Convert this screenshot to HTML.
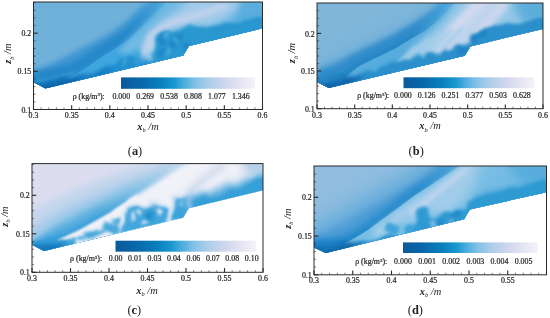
<!DOCTYPE html>
<html><head><meta charset="utf-8"><title>Density contours</title>
<style>html,body{margin:0;padding:0;background:#fff}body{width:550px;height:318px;overflow:hidden;font-family:"Liberation Serif","DejaVu Serif",serif}svg{display:block}text{font-family:"Liberation Serif","DejaVu Serif",serif;fill:#222}</style></head><body>
<svg width="550" height="318" viewBox="0 0 550 318">
<defs>
<linearGradient id="cbg" x1="0" y1="0" x2="1" y2="0"><stop offset="0" stop-color="#0a5a9a"/><stop offset="0.15" stop-color="#0868aa"/><stop offset="0.3" stop-color="#0a80be"/><stop offset="0.4" stop-color="#1a98d0"/><stop offset="0.46" stop-color="#44aadc"/><stop offset="0.55" stop-color="#7fc0e6"/><stop offset="0.65" stop-color="#abcdea"/><stop offset="0.78" stop-color="#d0d6ed"/><stop offset="0.9" stop-color="#e6e5f3"/><stop offset="1" stop-color="#f4f2f9"/></linearGradient>
<clipPath id="flowclipa"><polygon points="0.0,0.0 230.0,0.0 230.0,26.4 156.2,44.2 150.4,53.7 11.9,86.6 0.0,80.5"/></clipPath>
<clipPath id="flowclipb"><polygon points="0.0,0.0 230.0,0.0 230.0,26.4 156.2,44.2 150.4,53.7 11.9,86.6 0.0,80.5"/></clipPath>
<clipPath id="flowclipc"><polygon points="0.0,0.0 230.0,0.0 230.0,26.4 156.2,44.2 150.4,53.7 11.9,86.6 0.0,80.5"/></clipPath>
<clipPath id="flowclipd"><polygon points="0.0,0.0 230.0,0.0 230.0,25.9 154.1,43.0 148.6,52.8 11.5,86.2 0.0,80.8"/></clipPath>
<filter id="b0_7" filterUnits="userSpaceOnUse" x="-40" y="-40" width="320" height="200"><feGaussianBlur stdDeviation="0.7"/></filter>
<filter id="b0_8" filterUnits="userSpaceOnUse" x="-40" y="-40" width="320" height="200"><feGaussianBlur stdDeviation="0.8"/></filter>
<filter id="b0_9" filterUnits="userSpaceOnUse" x="-40" y="-40" width="320" height="200"><feGaussianBlur stdDeviation="0.9"/></filter>
<filter id="b1" filterUnits="userSpaceOnUse" x="-40" y="-40" width="320" height="200"><feGaussianBlur stdDeviation="1"/></filter>
<filter id="b1_2" filterUnits="userSpaceOnUse" x="-40" y="-40" width="320" height="200"><feGaussianBlur stdDeviation="1.2"/></filter>
<filter id="b1_3" filterUnits="userSpaceOnUse" x="-40" y="-40" width="320" height="200"><feGaussianBlur stdDeviation="1.3"/></filter>
<filter id="b1_5" filterUnits="userSpaceOnUse" x="-40" y="-40" width="320" height="200"><feGaussianBlur stdDeviation="1.5"/></filter>
<filter id="b1_8" filterUnits="userSpaceOnUse" x="-40" y="-40" width="320" height="200"><feGaussianBlur stdDeviation="1.8"/></filter>
<filter id="b2" filterUnits="userSpaceOnUse" x="-40" y="-40" width="320" height="200"><feGaussianBlur stdDeviation="2"/></filter>
<filter id="b2_2" filterUnits="userSpaceOnUse" x="-40" y="-40" width="320" height="200"><feGaussianBlur stdDeviation="2.2"/></filter>
<filter id="b2_5" filterUnits="userSpaceOnUse" x="-40" y="-40" width="320" height="200"><feGaussianBlur stdDeviation="2.5"/></filter>
<filter id="b3" filterUnits="userSpaceOnUse" x="-40" y="-40" width="320" height="200"><feGaussianBlur stdDeviation="3"/></filter>
<filter id="b3_5" filterUnits="userSpaceOnUse" x="-40" y="-40" width="320" height="200"><feGaussianBlur stdDeviation="3.5"/></filter>
<filter id="b4" filterUnits="userSpaceOnUse" x="-40" y="-40" width="320" height="200"><feGaussianBlur stdDeviation="4"/></filter>
<filter id="b5" filterUnits="userSpaceOnUse" x="-40" y="-40" width="320" height="200"><feGaussianBlur stdDeviation="5"/></filter>
<filter id="b6" filterUnits="userSpaceOnUse" x="-40" y="-40" width="320" height="200"><feGaussianBlur stdDeviation="6"/></filter>
<filter id="b8" filterUnits="userSpaceOnUse" x="-40" y="-40" width="320" height="200"><feGaussianBlur stdDeviation="8"/></filter>
<linearGradient id="ga1" gradientUnits="userSpaceOnUse" x1="40" y1="0" x2="132" y2="0"><stop offset="0" stop-color="#2085c8"/><stop offset="0.55" stop-color="#2085c8"/><stop offset="1" stop-color="#4aa5da"/></linearGradient><linearGradient id="gb1" gradientUnits="userSpaceOnUse" x1="60" y1="0" x2="135" y2="0"><stop offset="0" stop-color="#2f8bca"/><stop offset="0.55" stop-color="#2f8bca"/><stop offset="1" stop-color="#4ba6db"/></linearGradient><linearGradient id="gb2" gradientUnits="userSpaceOnUse" x1="60" y1="0" x2="130" y2="0"><stop offset="0" stop-color="#2787c5"/><stop offset="0.5" stop-color="#2787c5"/><stop offset="1" stop-color="#45a4da"/></linearGradient><linearGradient id="gcA0" gradientUnits="userSpaceOnUse" x1="30" y1="0" x2="160" y2="0"><stop offset="0" stop-color="#c5d6ed"/><stop offset="0.45" stop-color="#c5d6ed"/><stop offset="1" stop-color="#d6dcef"/></linearGradient><linearGradient id="gcA1" gradientUnits="userSpaceOnUse" x1="30" y1="0" x2="160" y2="0"><stop offset="0" stop-color="#aeceea"/><stop offset="0.45" stop-color="#aeceea"/><stop offset="1" stop-color="#d1dbee"/></linearGradient><linearGradient id="gcA2" gradientUnits="userSpaceOnUse" x1="30" y1="0" x2="160" y2="0"><stop offset="0" stop-color="#96c7e8"/><stop offset="0.45" stop-color="#96c7e8"/><stop offset="1" stop-color="#ccdaee"/></linearGradient><linearGradient id="gcA3" gradientUnits="userSpaceOnUse" x1="30" y1="0" x2="160" y2="0"><stop offset="0" stop-color="#7fbfe5"/><stop offset="0.45" stop-color="#7fbfe5"/><stop offset="1" stop-color="#c6d8ed"/></linearGradient><linearGradient id="gcB0" gradientUnits="userSpaceOnUse" x1="30" y1="0" x2="160" y2="0"><stop offset="0" stop-color="#6cb7e2"/><stop offset="0.3" stop-color="#6cb7e2"/><stop offset="0.55" stop-color="#90c5e7"/><stop offset="0.85" stop-color="#c2d6ed"/><stop offset="1" stop-color="#c2d6ed"/></linearGradient><linearGradient id="gcB1" gradientUnits="userSpaceOnUse" x1="30" y1="0" x2="160" y2="0"><stop offset="0" stop-color="#5aaede"/><stop offset="0.3" stop-color="#5aaede"/><stop offset="0.55" stop-color="#80bee5"/><stop offset="0.85" stop-color="#bdd5ec"/><stop offset="1" stop-color="#bdd5ec"/></linearGradient><linearGradient id="gcB2" gradientUnits="userSpaceOnUse" x1="30" y1="0" x2="160" y2="0"><stop offset="0" stop-color="#47a6db"/><stop offset="0.3" stop-color="#47a6db"/><stop offset="0.55" stop-color="#71b8e3"/><stop offset="0.85" stop-color="#b8d4ec"/><stop offset="1" stop-color="#b8d4ec"/></linearGradient><linearGradient id="gcB3" gradientUnits="userSpaceOnUse" x1="30" y1="0" x2="160" y2="0"><stop offset="0" stop-color="#349ed8"/><stop offset="0.3" stop-color="#349ed8"/><stop offset="0.55" stop-color="#62b2e1"/><stop offset="0.85" stop-color="#b4d2ec"/><stop offset="1" stop-color="#b4d2ec"/></linearGradient><linearGradient id="gd1" gradientUnits="userSpaceOnUse" x1="40" y1="0" x2="150" y2="0"><stop offset="0" stop-color="#3390cf"/><stop offset="0.6" stop-color="#3390cf"/><stop offset="1" stop-color="#4fa8dc"/></linearGradient><linearGradient id="gd2" gradientUnits="userSpaceOnUse" x1="40" y1="0" x2="148" y2="0"><stop offset="0" stop-color="#2589c9"/><stop offset="0.6" stop-color="#2589c9"/><stop offset="1" stop-color="#4aa6dc"/></linearGradient><filter id="wob" x="-10%" y="-10%" width="120%" height="120%" color-interpolation-filters="sRGB"><feTurbulence type="fractalNoise" baseFrequency="0.075" numOctaves="1" seed="7" result="n"/><feDisplacementMap in="SourceGraphic" in2="n" scale="8" xChannelSelector="R" yChannelSelector="G"/><feGaussianBlur stdDeviation="0.9"/></filter>
</defs>
<g id="panel-a">
<g transform="translate(33.5,2.0) scale(0.99565,0.99814)"><g clip-path="url(#flowclipa)">
<rect x="-5" y="-5" width="240" height="118" fill="#70b1da"/><polygon points="-5.5,74.1 0.5,70.1 16.6,61.6 26.6,56.1 38.7,50.1 51.7,43.1 66.8,35.6 82.9,26.0 93.9,17.5 105.0,7.0 115.0,-4.0 240.0,-5.0 240.0,112.0 -5.0,112.0" fill="#65aad8" filter="url(#b2_5)"/><polygon points="-5.5,75.8 0.5,72.0 14.6,64.5 24.5,58.8 35.7,52.9 47.4,46.6 61.8,39.4 77.5,30.7 90.2,22.0 101.3,12.4 111.7,1.7 240.0,-5.0 240.0,112.0 -5.0,112.0" fill="#5aa4d6" filter="url(#b2_5)"/><polygon points="-5.5,77.5 0.5,73.8 12.6,67.3 22.3,61.4 32.6,55.8 43.0,50.1 56.7,43.2 72.1,35.4 86.5,26.5 97.6,17.7 108.3,7.3 240.0,-5.0 240.0,112.0 -5.0,112.0" fill="#4e9ed5" filter="url(#b2_5)"/><polygon points="-5.5,79.1 0.5,75.6 10.5,70.1 20.2,64.1 29.6,58.6 38.7,53.6 51.7,47.1 66.8,40.1 82.9,31.1 93.9,23.0 105.0,13.0 240.0,-5.0 240.0,112.0 -5.0,112.0" fill="#4397d3" filter="url(#b2_5)"/><polyline points="-8.3,76.4 -2.2,74.9 18.8,71.4 27.9,69.9 33.9,68.4 42.1,65.9 55.0,57.8 64.0,51.3 79.1,41.9 94.2,32.3 101.2,24.8 108.2,17.3 115.3,9.2 124.3,0.2 132.3,-8.8" fill="none" stroke="url(#ga1)" stroke-width="11" stroke-linecap="round" stroke-linejoin="round" filter="url(#b3)"/><polygon points="-5.5,81.2 0.5,79.6 21.6,76.1 30.6,74.6 36.7,73.1 44.9,70.7 57.8,62.6 66.8,56.1 81.9,46.7 96.9,37.1 104.0,29.6 111.0,22.0 118.0,14.0 127.1,5.0 135.1,-4.0 240.0,-5.0 240.0,112.0 -5.0,112.0" fill="#2288ca" filter="url(#b0_8)"/><polygon points="22.6,82.2 26.6,79.1 30.6,76.8 36.7,74.3 44.9,70.7 57.8,62.6 66.8,56.1 81.9,46.7 96.9,37.1 104.0,29.6 111.0,22.0 118.0,14.0 127.1,5.0 135.1,-4.0 167.2,-4.0 167.2,58.1 66.8,78.1" fill="#3fa6de" filter="url(#b0_7)"/><polyline points="-5.5,83.2 0.5,81.2 21.6,75.6 40.7,70.6" fill="none" stroke="#3b9bd4" stroke-width="2.5" stroke-linecap="round" stroke-linejoin="round" filter="url(#b1)"/><polygon points="84.9,50.1 94.9,38.1 107.0,27.1 119.0,15.0 130.1,3.0 135.1,-5.0 242.6,-5.0 242.6,38.1 117.0,38.1 96.9,52.1" fill="#6fbae3" filter="url(#b2_5)"/><polygon points="195.3,-5.0 242.6,-5.0 242.6,32.1 203.4,28.1" fill="#5aaede" filter="url(#b5)"/><polygon points="112.0,52.1 113.0,38.1 119.0,28.1 130.1,18.0 145.1,8.0 157.2,-4.0 209.4,-4.0 203.4,10.0 189.3,18.0 175.3,24.0 157.2,25.0 139.1,26.0 127.1,34.1 123.0,48.1" fill="#a3cbea" filter="url(#b3_5)"/><polyline points="116.0,42.1 121.0,31.1 133.1,23.0 152.2,17.0 172.2,11.0 191.3,4.0" fill="none" stroke="#c3d3ed" stroke-width="6" stroke-linecap="round" stroke-linejoin="round" filter="url(#b2_5)"/><g filter="url(#wob)"><polygon points="-5.5,88.2 26.6,80.1 44.7,75.6 57.8,71.1 70.8,66.6 78.8,63.1 82.9,59.6 85.9,56.6 88.9,57.1 91.9,59.1 93.9,55.6 96.9,53.6 99.9,55.1 102.4,58.1 105.0,56.1 108.0,57.6 113.0,56.1 117.0,53.1 160.0,28.0 240.0,14.0 240.0,60.0 150.0,60.0 12.0,92.0 -5.0,92.0" fill="#2390d0" filter="url(#b0_9)"/><polygon points="-5.5,84.2 21.6,77.1 46.7,73.6 66.8,69.6 81.9,65.1 71.8,78.1 11.6,94.2 -5.5,90.2" fill="#187bc2" filter="url(#b2_5)"/><polygon points="-5.0,80.0 12.0,82.0 35.0,77.0 50.0,79.0 12.0,92.0 -5.0,88.0" fill="#0b62a8" filter="url(#b2)"/><ellipse cx="90.4" cy="61.6" rx="1.5" ry="2.5" fill="#5fb2e1" filter="url(#b1)" transform="rotate(10 90.4 61.6)"/><ellipse cx="104.0" cy="60.1" rx="1.2" ry="2" fill="#5fb2e1" filter="url(#b1)" transform="rotate(10 104.0 60.1)"/><ellipse cx="110.0" cy="59.1" rx="1.5" ry="1.5" fill="#5fb2e1" filter="url(#b1)"/><ellipse cx="115.5" cy="44.1" rx="6" ry="12" fill="#bad1ec" filter="url(#b2_5)" transform="rotate(18 115.5 44.1)"/><ellipse cx="117.0" cy="55.1" rx="3.5" ry="4" fill="#a5cfeb" filter="url(#b2)"/><polygon points="119.0,58.1 121.5,42.1 125.0,33.1 132.6,29.1 143.1,30.6 148.9,26.0 158.2,23.5 167.2,24.4 172.2,26.5 179.3,27.1 179.3,68.1 117.0,68.1" fill="#2c98d0" filter="url(#b1_3)"/><polygon points="163.2,25.0 172.2,27.1 185.3,26.0 199.4,23.5 242.6,14.0 242.6,68.1 163.2,68.1" fill="#2c98d0" filter="url(#b3)"/><ellipse cx="130.1" cy="38.1" rx="4" ry="5" fill="#1f86c8" filter="url(#b1_5)" transform="rotate(20 130.1 38.1)"/><ellipse cx="139.1" cy="43.1" rx="4" ry="6" fill="#1f86c8" filter="url(#b1_5)" transform="rotate(10 139.1 43.1)"/><ellipse cx="147.1" cy="34.1" rx="4" ry="4" fill="#1f86c8" filter="url(#b1_5)"/><ellipse cx="127.1" cy="50.1" rx="3" ry="5" fill="#1f86c8" filter="url(#b1_5)" transform="rotate(10 127.1 50.1)"/><ellipse cx="152.2" cy="45.1" rx="4" ry="3" fill="#1f86c8" filter="url(#b1_5)" transform="rotate(-20 152.2 45.1)"/><ellipse cx="134.1" cy="34.1" rx="2" ry="4" fill="#55afe0" filter="url(#b1_2)" transform="rotate(20 134.1 34.1)"/><ellipse cx="143.1" cy="38.1" rx="1.5" ry="4" fill="#55afe0" filter="url(#b1_2)" transform="rotate(10 143.1 38.1)"/><ellipse cx="135.1" cy="50.1" rx="2" ry="3" fill="#55afe0" filter="url(#b1_2)"/></g>
</g></g>
<rect x="33.5" y="2.0" width="229.0" height="107.5" fill="none" stroke="#2a2a2a" stroke-width="1"/>
<line x1="33.50" y1="109.5" x2="33.50" y2="105.3" stroke="#2a2a2a" stroke-width="1.1"/><line x1="41.13" y1="109.5" x2="41.13" y2="107.4" stroke="#2a2a2a" stroke-width="0.6"/><line x1="48.77" y1="109.5" x2="48.77" y2="107.4" stroke="#2a2a2a" stroke-width="0.6"/><line x1="56.40" y1="109.5" x2="56.40" y2="107.4" stroke="#2a2a2a" stroke-width="0.6"/><line x1="64.03" y1="109.5" x2="64.03" y2="107.4" stroke="#2a2a2a" stroke-width="0.6"/><line x1="71.67" y1="109.5" x2="71.67" y2="105.3" stroke="#2a2a2a" stroke-width="1.1"/><line x1="79.30" y1="109.5" x2="79.30" y2="107.4" stroke="#2a2a2a" stroke-width="0.6"/><line x1="86.93" y1="109.5" x2="86.93" y2="107.4" stroke="#2a2a2a" stroke-width="0.6"/><line x1="94.57" y1="109.5" x2="94.57" y2="107.4" stroke="#2a2a2a" stroke-width="0.6"/><line x1="102.20" y1="109.5" x2="102.20" y2="107.4" stroke="#2a2a2a" stroke-width="0.6"/><line x1="109.83" y1="109.5" x2="109.83" y2="105.3" stroke="#2a2a2a" stroke-width="1.1"/><line x1="117.47" y1="109.5" x2="117.47" y2="107.4" stroke="#2a2a2a" stroke-width="0.6"/><line x1="125.10" y1="109.5" x2="125.10" y2="107.4" stroke="#2a2a2a" stroke-width="0.6"/><line x1="132.73" y1="109.5" x2="132.73" y2="107.4" stroke="#2a2a2a" stroke-width="0.6"/><line x1="140.37" y1="109.5" x2="140.37" y2="107.4" stroke="#2a2a2a" stroke-width="0.6"/><line x1="148.00" y1="109.5" x2="148.00" y2="105.3" stroke="#2a2a2a" stroke-width="1.1"/><line x1="155.63" y1="109.5" x2="155.63" y2="107.4" stroke="#2a2a2a" stroke-width="0.6"/><line x1="163.27" y1="109.5" x2="163.27" y2="107.4" stroke="#2a2a2a" stroke-width="0.6"/><line x1="170.90" y1="109.5" x2="170.90" y2="107.4" stroke="#2a2a2a" stroke-width="0.6"/><line x1="178.53" y1="109.5" x2="178.53" y2="107.4" stroke="#2a2a2a" stroke-width="0.6"/><line x1="186.17" y1="109.5" x2="186.17" y2="105.3" stroke="#2a2a2a" stroke-width="1.1"/><line x1="193.80" y1="109.5" x2="193.80" y2="107.4" stroke="#2a2a2a" stroke-width="0.6"/><line x1="201.43" y1="109.5" x2="201.43" y2="107.4" stroke="#2a2a2a" stroke-width="0.6"/><line x1="209.07" y1="109.5" x2="209.07" y2="107.4" stroke="#2a2a2a" stroke-width="0.6"/><line x1="216.70" y1="109.5" x2="216.70" y2="107.4" stroke="#2a2a2a" stroke-width="0.6"/><line x1="224.33" y1="109.5" x2="224.33" y2="105.3" stroke="#2a2a2a" stroke-width="1.1"/><line x1="231.97" y1="109.5" x2="231.97" y2="107.4" stroke="#2a2a2a" stroke-width="0.6"/><line x1="239.60" y1="109.5" x2="239.60" y2="107.4" stroke="#2a2a2a" stroke-width="0.6"/><line x1="247.23" y1="109.5" x2="247.23" y2="107.4" stroke="#2a2a2a" stroke-width="0.6"/><line x1="254.87" y1="109.5" x2="254.87" y2="107.4" stroke="#2a2a2a" stroke-width="0.6"/><line x1="262.50" y1="109.5" x2="262.50" y2="105.3" stroke="#2a2a2a" stroke-width="1.1"/><line x1="33.5" y1="109.50" x2="37.7" y2="109.50" stroke="#2a2a2a" stroke-width="1.1"/><line x1="33.5" y1="101.87" x2="35.6" y2="101.87" stroke="#2a2a2a" stroke-width="0.6"/><line x1="33.5" y1="94.23" x2="35.6" y2="94.23" stroke="#2a2a2a" stroke-width="0.6"/><line x1="33.5" y1="86.60" x2="35.6" y2="86.60" stroke="#2a2a2a" stroke-width="0.6"/><line x1="33.5" y1="78.97" x2="35.6" y2="78.97" stroke="#2a2a2a" stroke-width="0.6"/><line x1="33.5" y1="71.33" x2="37.7" y2="71.33" stroke="#2a2a2a" stroke-width="1.1"/><line x1="33.5" y1="63.70" x2="35.6" y2="63.70" stroke="#2a2a2a" stroke-width="0.6"/><line x1="33.5" y1="56.07" x2="35.6" y2="56.07" stroke="#2a2a2a" stroke-width="0.6"/><line x1="33.5" y1="48.43" x2="35.6" y2="48.43" stroke="#2a2a2a" stroke-width="0.6"/><line x1="33.5" y1="40.80" x2="35.6" y2="40.80" stroke="#2a2a2a" stroke-width="0.6"/><line x1="33.5" y1="33.17" x2="37.7" y2="33.17" stroke="#2a2a2a" stroke-width="1.1"/><line x1="33.5" y1="25.53" x2="35.6" y2="25.53" stroke="#2a2a2a" stroke-width="0.6"/><line x1="33.5" y1="17.90" x2="35.6" y2="17.90" stroke="#2a2a2a" stroke-width="0.6"/><line x1="33.5" y1="10.27" x2="35.6" y2="10.27" stroke="#2a2a2a" stroke-width="0.6"/><line x1="33.5" y1="2.63" x2="35.6" y2="2.63" stroke="#2a2a2a" stroke-width="0.6"/>
<text x="33.5" y="118.0" font-size="7.9" stroke="#222" stroke-width="0.2" text-anchor="middle">0.3</text><text x="71.7" y="118.0" font-size="7.9" stroke="#222" stroke-width="0.2" text-anchor="middle">0.35</text><text x="109.8" y="118.0" font-size="7.9" stroke="#222" stroke-width="0.2" text-anchor="middle">0.4</text><text x="148.0" y="118.0" font-size="7.9" stroke="#222" stroke-width="0.2" text-anchor="middle">0.45</text><text x="186.2" y="118.0" font-size="7.9" stroke="#222" stroke-width="0.2" text-anchor="middle">0.5</text><text x="224.3" y="118.0" font-size="7.9" stroke="#222" stroke-width="0.2" text-anchor="middle">0.55</text><text x="262.5" y="118.0" font-size="7.9" stroke="#222" stroke-width="0.2" text-anchor="middle">0.6</text><text x="31.3" y="112.6" font-size="7.9" stroke="#222" stroke-width="0.2" text-anchor="end">0.1</text><text x="31.3" y="74.4" font-size="7.9" stroke="#222" stroke-width="0.2" text-anchor="end">0.15</text><text x="31.3" y="36.3" font-size="7.9" stroke="#222" stroke-width="0.2" text-anchor="end">0.2</text>
<text x="148" y="129.8" font-size="10.4" text-anchor="middle" font-style="italic"><tspan font-weight="bold">x</tspan><tspan font-size="6.4" dy="2.2">b</tspan><tspan dy="-2.2"> /m</tspan></text>
<text transform="translate(11.3,53.7) rotate(-90)" font-size="10.4" text-anchor="middle" font-style="italic"><tspan font-weight="bold">z</tspan><tspan font-size="6.4" dy="2.2">b</tspan><tspan dy="-2.2"> /m</tspan></text>
<rect x="121" y="77.4" width="134.0" height="11.4" fill="url(#cbg)"/>
<text x="121.3" y="98.6" font-size="7.9" stroke="#222" stroke-width="0.2" text-anchor="middle">0.000</text><text x="145.2" y="98.6" font-size="7.9" stroke="#222" stroke-width="0.2" text-anchor="middle">0.269</text><text x="169.1" y="98.6" font-size="7.9" stroke="#222" stroke-width="0.2" text-anchor="middle">0.538</text><text x="193.0" y="98.6" font-size="7.9" stroke="#222" stroke-width="0.2" text-anchor="middle">0.808</text><text x="216.9" y="98.6" font-size="7.9" stroke="#222" stroke-width="0.2" text-anchor="middle">1.077</text><text x="240.8" y="98.6" font-size="7.9" stroke="#222" stroke-width="0.2" text-anchor="middle">1.346</text><text x="104.8" y="98.6" font-size="7.9" stroke="#222" stroke-width="0.2" text-anchor="end">ρ (kg/m<tspan font-size="5" dy="-2.6">3</tspan><tspan dy="2.6">):</tspan></text>
<text x="135" y="155.2" font-size="12.4" text-anchor="middle" fill="#111">(<tspan font-weight="bold">a</tspan>)</text>
</g>
<g id="panel-b">
<g transform="translate(317.0,3.0) scale(0.98261,0.98143)"><g clip-path="url(#flowclipb)">
<rect x="-5" y="-5" width="240" height="118" fill="#7fb6da"/><polygon points="-14.2,65.7 -5.0,60.6 8.2,51.9 23.5,44.3 37.0,38.2 51.4,31.5 62.2,26.5 74.4,20.8 88.6,13.5 104.9,3.5 125.3,-8.2 135.4,-14.8 240.0,-5.0 240.0,112.0 -5.0,112.0" fill="#76b2da" filter="url(#b6)"/><polygon points="-9.2,74.4 0.0,69.3 13.2,60.6 28.5,53.0 42.0,46.9 56.4,40.2 67.2,35.2 79.4,29.5 93.6,22.2 109.9,12.2 130.3,0.5 140.4,-6.1 240.0,-5.0 240.0,112.0 -5.0,112.0" fill="#6aabd7" filter="url(#b2_5)"/><polygon points="-9.2,77.8 0.0,72.5 13.2,63.9 28.5,55.7 42.0,49.2 56.4,42.6 67.2,37.5 79.4,31.9 93.6,24.5 109.9,14.4 128.9,2.7 139.8,-6.1 240.0,-5.0 240.0,112.0 -5.0,112.0" fill="#5aa2d4" filter="url(#b2_5)"/><polygon points="-9.2,81.2 0.0,75.7 13.2,67.1 28.5,58.4 42.0,51.6 56.4,45.0 67.2,39.9 79.4,34.3 93.6,26.8 109.9,16.6 127.6,4.9 139.1,-6.1 240.0,-5.0 240.0,112.0 -5.0,112.0" fill="#4a99d0" filter="url(#b2_5)"/><polygon points="-9.2,84.6 0.0,79.0 13.2,70.3 28.5,61.1 42.0,54.0 56.4,47.4 67.2,42.3 79.4,36.7 93.6,29.0 109.9,18.9 126.2,7.1 138.4,-6.1 240.0,-5.0 240.0,112.0 -5.0,112.0" fill="#3a90cd" filter="url(#b2_5)"/><polyline points="-12.2,80.4 -2.0,75.8 10.2,71.7 22.4,69.7 30.6,65.6 39.0,59.8 53.4,52.3 61.1,48.8 76.4,41.2 91.6,32.1 106.9,23.0 118.1,14.1 129.3,2.9 139.5,-9.3" fill="none" stroke="url(#gb1)" stroke-width="12" stroke-linecap="round" stroke-linejoin="round" filter="url(#b3)"/><polyline points="-10.2,83.8 0.0,79.3 12.2,75.2 24.4,73.2 32.6,69.1 41.0,63.3 55.4,55.8 63.1,52.3 78.4,44.7 93.6,35.6 108.9,26.5 120.1,17.6 131.3,6.4 141.5,-5.8" fill="none" stroke="url(#gb2)" stroke-width="4" stroke-linecap="round" stroke-linejoin="round" filter="url(#b1_2)"/><polygon points="-9.2,85.6 1.0,81.0 13.2,76.9 25.4,74.9 33.6,70.8 42.0,65.0 56.4,57.6 64.1,54.0 79.4,46.5 94.6,37.3 109.9,28.2 121.1,19.4 132.3,8.2 142.5,-4.1 240.0,-5.0 240.0,112.0 -5.0,112.0" fill="#2a8ac8" filter="url(#b0_7)"/><polygon points="19.3,82.5 25.4,77.9 33.6,71.8 42.0,65.0 56.4,57.6 64.1,54.0 79.4,46.5 94.6,37.3 109.9,28.2 121.1,19.4 132.3,8.2 142.5,-4.1 165.9,-6.1 165.9,58.1 84.5,78.5" fill="#56acdc" filter="url(#b0_7)"/><polygon points="89.6,52.0 104.8,37.7 120.1,24.5 132.3,11.2 143.5,-6.1 247.3,-6.1 247.3,37.7 125.2,53.0" fill="#93c7e8" filter="url(#b3)"/><polygon points="106.9,55.0 122.1,37.7 137.4,21.4 150.6,6.1 157.7,-6.1 204.6,-6.1 189.3,11.2 176.1,25.5 159.8,37.7 140.4,47.9" fill="#bfd4ed" filter="url(#b3_5)"/><polyline points="137.4,27.5 153.7,12.2 165.9,1.0" fill="none" stroke="#d6daf0" stroke-width="8" stroke-linecap="round" stroke-linejoin="round" filter="url(#b3)"/><polyline points="163.8,31.6 176.1,17.3 189.3,3.1" fill="none" stroke="#cfd7ee" stroke-width="6" stroke-linecap="round" stroke-linejoin="round" filter="url(#b2_5)"/><polyline points="92.6,56.0 113.0,37.7" fill="none" stroke="#a8cfeb" stroke-width="3" stroke-linecap="round" stroke-linejoin="round" filter="url(#b1_5)"/><polyline points="104.8,50.9 125.2,31.6" fill="none" stroke="#a8cfeb" stroke-width="3" stroke-linecap="round" stroke-linejoin="round" filter="url(#b1_5)"/><polyline points="117.0,47.9 137.4,27.5" fill="none" stroke="#a8cfeb" stroke-width="3" stroke-linecap="round" stroke-linejoin="round" filter="url(#b1_5)"/><polyline points="129.2,44.8 147.6,25.5" fill="none" stroke="#a8cfeb" stroke-width="3" stroke-linecap="round" stroke-linejoin="round" filter="url(#b1_5)"/><polyline points="83.5,60.1 99.7,45.9" fill="none" stroke="#a8cfeb" stroke-width="3" stroke-linecap="round" stroke-linejoin="round" filter="url(#b1_5)"/><polygon points="196.4,-6.1 247.3,-6.1 247.3,21.4 208.6,19.4" fill="#5cadda" filter="url(#b5)"/><g filter="url(#wob)"><polygon points="13.2,86.6 23.4,81.0 33.4,76.9 39.7,73.9 46.3,71.6 51.9,68.3 59.5,67.8 64.1,64.2 70.2,64.7 75.3,61.7 80.4,58.6 86.3,58.1 90.6,60.6 95.7,59.9 99.7,55.0 103.8,52.5 106.9,55.5 110.4,54.4 114.0,50.4 117.7,49.7 121.1,52.5 125.2,51.6 127.2,47.9 128.8,46.9 132.3,49.4 136.4,48.9 139.4,43.8 143.5,42.3 147.6,44.3 151.1,43.3 154.7,41.4 156.7,36.7 161.8,30.6 170.0,25.5 179.1,22.9 191.3,21.9 206.6,19.9 235.1,14.3 240.0,70.0 -5.0,112.0" fill="#2a8fca" filter="url(#b0_9)"/><ellipse cx="159.8" cy="35.7" rx="4" ry="4" fill="#1f80c4" filter="url(#b1_5)"/><ellipse cx="167.9" cy="31.6" rx="5" ry="3" fill="#1f80c4" filter="url(#b1_5)" transform="rotate(-15 167.9 31.6)"/><ellipse cx="147.6" cy="48.9" rx="4" ry="3" fill="#1f80c4" filter="url(#b1_5)" transform="rotate(-15 147.6 48.9)"/><polygon points="-9.2,84.6 13.2,80.0 28.5,77.9 39.7,76.4 28.5,88.6 -9.2,90.7" fill="#1b78bb" filter="url(#b2_5)"/><polygon points="-5.0,82.0 12.0,82.0 35.0,75.0 50.0,76.0 12.0,92.0 -5.0,88.0" fill="#0d64a8" filter="url(#b2)"/></g>
</g></g>
<rect x="317.0" y="3.0" width="226.0" height="105.7" fill="none" stroke="#2a2a2a" stroke-width="1"/>
<line x1="317.00" y1="108.7" x2="317.00" y2="104.5" stroke="#2a2a2a" stroke-width="1.1"/><line x1="324.53" y1="108.7" x2="324.53" y2="106.60000000000001" stroke="#2a2a2a" stroke-width="0.6"/><line x1="332.07" y1="108.7" x2="332.07" y2="106.60000000000001" stroke="#2a2a2a" stroke-width="0.6"/><line x1="339.60" y1="108.7" x2="339.60" y2="106.60000000000001" stroke="#2a2a2a" stroke-width="0.6"/><line x1="347.13" y1="108.7" x2="347.13" y2="106.60000000000001" stroke="#2a2a2a" stroke-width="0.6"/><line x1="354.67" y1="108.7" x2="354.67" y2="104.5" stroke="#2a2a2a" stroke-width="1.1"/><line x1="362.20" y1="108.7" x2="362.20" y2="106.60000000000001" stroke="#2a2a2a" stroke-width="0.6"/><line x1="369.73" y1="108.7" x2="369.73" y2="106.60000000000001" stroke="#2a2a2a" stroke-width="0.6"/><line x1="377.27" y1="108.7" x2="377.27" y2="106.60000000000001" stroke="#2a2a2a" stroke-width="0.6"/><line x1="384.80" y1="108.7" x2="384.80" y2="106.60000000000001" stroke="#2a2a2a" stroke-width="0.6"/><line x1="392.33" y1="108.7" x2="392.33" y2="104.5" stroke="#2a2a2a" stroke-width="1.1"/><line x1="399.87" y1="108.7" x2="399.87" y2="106.60000000000001" stroke="#2a2a2a" stroke-width="0.6"/><line x1="407.40" y1="108.7" x2="407.40" y2="106.60000000000001" stroke="#2a2a2a" stroke-width="0.6"/><line x1="414.93" y1="108.7" x2="414.93" y2="106.60000000000001" stroke="#2a2a2a" stroke-width="0.6"/><line x1="422.47" y1="108.7" x2="422.47" y2="106.60000000000001" stroke="#2a2a2a" stroke-width="0.6"/><line x1="430.00" y1="108.7" x2="430.00" y2="104.5" stroke="#2a2a2a" stroke-width="1.1"/><line x1="437.53" y1="108.7" x2="437.53" y2="106.60000000000001" stroke="#2a2a2a" stroke-width="0.6"/><line x1="445.07" y1="108.7" x2="445.07" y2="106.60000000000001" stroke="#2a2a2a" stroke-width="0.6"/><line x1="452.60" y1="108.7" x2="452.60" y2="106.60000000000001" stroke="#2a2a2a" stroke-width="0.6"/><line x1="460.13" y1="108.7" x2="460.13" y2="106.60000000000001" stroke="#2a2a2a" stroke-width="0.6"/><line x1="467.67" y1="108.7" x2="467.67" y2="104.5" stroke="#2a2a2a" stroke-width="1.1"/><line x1="475.20" y1="108.7" x2="475.20" y2="106.60000000000001" stroke="#2a2a2a" stroke-width="0.6"/><line x1="482.73" y1="108.7" x2="482.73" y2="106.60000000000001" stroke="#2a2a2a" stroke-width="0.6"/><line x1="490.27" y1="108.7" x2="490.27" y2="106.60000000000001" stroke="#2a2a2a" stroke-width="0.6"/><line x1="497.80" y1="108.7" x2="497.80" y2="106.60000000000001" stroke="#2a2a2a" stroke-width="0.6"/><line x1="505.33" y1="108.7" x2="505.33" y2="104.5" stroke="#2a2a2a" stroke-width="1.1"/><line x1="512.87" y1="108.7" x2="512.87" y2="106.60000000000001" stroke="#2a2a2a" stroke-width="0.6"/><line x1="520.40" y1="108.7" x2="520.40" y2="106.60000000000001" stroke="#2a2a2a" stroke-width="0.6"/><line x1="527.93" y1="108.7" x2="527.93" y2="106.60000000000001" stroke="#2a2a2a" stroke-width="0.6"/><line x1="535.47" y1="108.7" x2="535.47" y2="106.60000000000001" stroke="#2a2a2a" stroke-width="0.6"/><line x1="543.00" y1="108.7" x2="543.00" y2="104.5" stroke="#2a2a2a" stroke-width="1.1"/><line x1="317.0" y1="108.70" x2="321.2" y2="108.70" stroke="#2a2a2a" stroke-width="1.1"/><line x1="317.0" y1="101.17" x2="319.1" y2="101.17" stroke="#2a2a2a" stroke-width="0.6"/><line x1="317.0" y1="93.63" x2="319.1" y2="93.63" stroke="#2a2a2a" stroke-width="0.6"/><line x1="317.0" y1="86.10" x2="319.1" y2="86.10" stroke="#2a2a2a" stroke-width="0.6"/><line x1="317.0" y1="78.57" x2="319.1" y2="78.57" stroke="#2a2a2a" stroke-width="0.6"/><line x1="317.0" y1="71.03" x2="321.2" y2="71.03" stroke="#2a2a2a" stroke-width="1.1"/><line x1="317.0" y1="63.50" x2="319.1" y2="63.50" stroke="#2a2a2a" stroke-width="0.6"/><line x1="317.0" y1="55.97" x2="319.1" y2="55.97" stroke="#2a2a2a" stroke-width="0.6"/><line x1="317.0" y1="48.43" x2="319.1" y2="48.43" stroke="#2a2a2a" stroke-width="0.6"/><line x1="317.0" y1="40.90" x2="319.1" y2="40.90" stroke="#2a2a2a" stroke-width="0.6"/><line x1="317.0" y1="33.37" x2="321.2" y2="33.37" stroke="#2a2a2a" stroke-width="1.1"/><line x1="317.0" y1="25.83" x2="319.1" y2="25.83" stroke="#2a2a2a" stroke-width="0.6"/><line x1="317.0" y1="18.30" x2="319.1" y2="18.30" stroke="#2a2a2a" stroke-width="0.6"/><line x1="317.0" y1="10.77" x2="319.1" y2="10.77" stroke="#2a2a2a" stroke-width="0.6"/>
<text x="317.0" y="117.6" font-size="7.9" stroke="#222" stroke-width="0.2" text-anchor="middle">0.3</text><text x="354.7" y="117.6" font-size="7.9" stroke="#222" stroke-width="0.2" text-anchor="middle">0.35</text><text x="392.3" y="117.6" font-size="7.9" stroke="#222" stroke-width="0.2" text-anchor="middle">0.4</text><text x="430.0" y="117.6" font-size="7.9" stroke="#222" stroke-width="0.2" text-anchor="middle">0.45</text><text x="467.7" y="117.6" font-size="7.9" stroke="#222" stroke-width="0.2" text-anchor="middle">0.5</text><text x="505.3" y="117.6" font-size="7.9" stroke="#222" stroke-width="0.2" text-anchor="middle">0.55</text><text x="543.0" y="117.6" font-size="7.9" stroke="#222" stroke-width="0.2" text-anchor="middle">0.6</text><text x="314.8" y="111.8" font-size="7.9" stroke="#222" stroke-width="0.2" text-anchor="end">0.1</text><text x="314.8" y="74.1" font-size="7.9" stroke="#222" stroke-width="0.2" text-anchor="end">0.15</text><text x="314.8" y="36.5" font-size="7.9" stroke="#222" stroke-width="0.2" text-anchor="end">0.2</text>
<text x="430" y="129.4" font-size="10.4" text-anchor="middle" font-style="italic"><tspan font-weight="bold">x</tspan><tspan font-size="6.4" dy="2.2">b</tspan><tspan dy="-2.2"> /m</tspan></text>
<text transform="translate(295.3,53) rotate(-90)" font-size="10.4" text-anchor="middle" font-style="italic"><tspan font-weight="bold">z</tspan><tspan font-size="6.4" dy="2.2">b</tspan><tspan dy="-2.2"> /m</tspan></text>
<rect x="403.5" y="77.3" width="130.9" height="10.9" fill="url(#cbg)"/>
<text x="402.9" y="98.4" font-size="7.9" stroke="#222" stroke-width="0.2" text-anchor="middle">0.000</text><text x="426.7" y="98.4" font-size="7.9" stroke="#222" stroke-width="0.2" text-anchor="middle">0.126</text><text x="450.5" y="98.4" font-size="7.9" stroke="#222" stroke-width="0.2" text-anchor="middle">0.251</text><text x="474.3" y="98.4" font-size="7.9" stroke="#222" stroke-width="0.2" text-anchor="middle">0.377</text><text x="498.1" y="98.4" font-size="7.9" stroke="#222" stroke-width="0.2" text-anchor="middle">0.503</text><text x="521.9" y="98.4" font-size="7.9" stroke="#222" stroke-width="0.2" text-anchor="middle">0.628</text><text x="389.3" y="98.4" font-size="7.9" stroke="#222" stroke-width="0.2" text-anchor="end">ρ (kg/m<tspan font-size="5" dy="-2.6">3</tspan><tspan dy="2.6">):</tspan></text>
<text x="416.2" y="155.3" font-size="12.4" text-anchor="middle" fill="#111">(<tspan font-weight="bold">b</tspan>)</text>
</g>
<g id="panel-c">
<g transform="translate(32.0,163.6) scale(1.00435,1.00929)"><g clip-path="url(#flowclipc)">
<rect x="-5" y="-5" width="240" height="118" fill="#dcdef0"/><polygon points="-6.0,48.0 2.6,44.0 22.4,34.6 33.9,29.1 47.8,23.2 62.7,17.2 77.7,11.8 82.6,9.8 97.6,4.8 112.5,-0.6 127.4,-5.5 142.4,-10.5 155.3,-15.5 162.3,-18.4 240.0,-5.0 240.0,112.0 -5.0,112.0" fill="url(#gcA0)" filter="url(#b3_5)"/><polygon points="-6.0,64.8 2.6,60.3 22.4,48.5 33.9,42.3 47.8,35.8 62.7,29.1 77.7,23.2 82.6,21.0 97.6,14.5 112.5,7.6 127.4,0.9 142.4,-6.0 155.3,-12.5 162.3,-16.0 240.0,-5.0 240.0,112.0 -5.0,112.0" fill="url(#gcA1)" filter="url(#b3_5)"/><polygon points="-6.0,74.9 2.6,70.1 22.4,56.8 33.9,50.1 47.8,43.4 62.7,36.3 77.7,30.0 82.6,27.6 97.6,20.3 112.5,12.5 127.4,4.8 142.4,-3.4 155.3,-10.7 162.3,-14.5 240.0,-5.0 240.0,112.0 -5.0,112.0" fill="url(#gcA2)" filter="url(#b3_5)"/><polygon points="-6.0,81.6 2.6,76.7 22.4,62.3 33.9,55.4 47.8,48.5 62.7,41.0 77.7,34.6 82.6,32.1 97.6,24.2 112.5,15.8 127.4,7.3 142.4,-1.6 155.3,-9.5 162.3,-13.5 240.0,-5.0 240.0,112.0 -5.0,112.0" fill="url(#gcA3)" filter="url(#b3_5)"/><polygon points="-6.0,81.6 2.6,76.9 22.4,63.5 33.9,57.0 47.8,50.1 62.7,42.6 77.7,36.0 82.6,33.4 97.6,25.3 112.5,16.7 127.4,8.2 142.4,-0.7 155.3,-8.7 162.3,-12.8 240.0,-5.0 240.0,112.0 -5.0,112.0" fill="url(#gcB0)" filter="url(#b2)"/><polygon points="-6.0,81.6 2.6,77.3 22.4,66.1 33.9,60.6 47.8,54.0 62.7,46.3 77.7,39.2 82.6,36.3 97.6,27.8 112.5,19.0 127.4,10.3 142.4,1.2 155.3,-6.9 162.3,-11.2 240.0,-5.0 240.0,112.0 -5.0,112.0" fill="url(#gcB1)" filter="url(#b2)"/><polygon points="-6.0,81.6 2.6,77.8 22.4,68.9 33.9,64.6 47.8,58.2 62.7,50.2 77.7,42.6 82.6,39.5 97.6,30.5 112.5,21.4 127.4,12.5 142.4,3.3 155.3,-4.9 162.3,-9.5 240.0,-5.0 240.0,112.0 -5.0,112.0" fill="url(#gcB2)" filter="url(#b2)"/><polygon points="-6.0,81.6 2.6,78.4 22.4,71.9 33.9,68.7 47.8,62.6 62.7,54.3 77.7,46.2 82.6,42.8 97.6,33.3 112.5,24.0 127.4,14.8 142.4,5.5 155.3,-2.9 162.3,-7.6 240.0,-5.0 240.0,112.0 -5.0,112.0" fill="url(#gcB3)" filter="url(#b1_2)"/><polygon points="95.6,36.4 112.5,25.6 127.4,16.2 142.4,6.8 155.3,-1.6 162.3,-6.5 241.9,-6.5 241.9,95.5 95.6,95.5" fill="#f1f1f8" filter="url(#b2_2)"/><polygon points="21.9,79.7 25.9,75.7 33.9,71.7 47.8,65.3 62.7,56.9 77.7,48.5 82.6,44.8 97.6,35.1 105.5,30.1 105.5,95.5 21.9,95.5" fill="#f1f1f8" filter="url(#b0_8)"/><polyline points="157.3,28.1 172.3,14.3 189.2,2.4" fill="none" stroke="#d3deef" stroke-width="8" stroke-linecap="round" stroke-linejoin="round" filter="url(#b3)"/><polygon points="205.1,-5.5 237.0,-5.5 237.0,16.2 217.1,14.3" fill="#b4cfe9" filter="url(#b4)"/><polygon points="-6.0,79.7 8.0,76.7 19.9,75.7 29.9,75.2 37.8,75.7 43.8,77.2 37.8,87.6 8.0,93.5 -6.0,87.6" fill="#2f98d4" filter="url(#b1_2)"/><polygon points="-6.0,80.7 8.0,80.2 25.9,79.7 33.9,80.2 11.9,91.5 -6.0,85.6" fill="#157abc" filter="url(#b1_8)"/><g filter="url(#wob)"><ellipse cx="39.6" cy="76.2" rx="6" ry="3" fill="#48a8dc" filter="url(#b1_3)" transform="rotate(-15 39.6 76.2)"/><ellipse cx="59.5" cy="69.0" rx="7.5" ry="4" fill="#48a8dc" filter="url(#b1_3)" transform="rotate(-15 59.5 69.0)"/><ellipse cx="75.7" cy="64.3" rx="6" ry="5" fill="#48a8dc" filter="url(#b1_3)" transform="rotate(-15 75.7 64.3)"/><ellipse cx="84.0" cy="56.4" rx="4.5" ry="3" fill="#48a8dc" filter="url(#b1_3)" transform="rotate(-20 84.0 56.4)"/><ellipse cx="81.6" cy="64.8" rx="5" ry="6" fill="#48a8dc" filter="url(#b1_3)"/><ellipse cx="49.8" cy="74.2" rx="5" ry="2" fill="#48a8dc" filter="url(#b1_3)" transform="rotate(-14 49.8 74.2)"/><ellipse cx="67.7" cy="69.3" rx="5" ry="2.2" fill="#48a8dc" filter="url(#b1_3)" transform="rotate(-14 67.7 69.3)"/><polygon points="85.9,68.4 88.9,56.6 92.4,49.2 97.6,42.4 104.5,41.5 111.4,44.1 116.5,40.7 123.4,38.9 128.7,40.7 133.7,44.1 134.7,56.6 116.7,62.5" fill="#a3cfeb" filter="url(#b2)"/><polygon points="86.6,69.8 89.6,57.9 93.2,50.5 98.4,43.7 105.2,42.8 112.1,45.4 117.3,42.0 124.2,40.2 129.4,42.0 134.4,45.4 135.4,57.9 117.5,63.8" fill="#43a6dc" filter="url(#b1_3)"/><ellipse cx="117.5" cy="51.9" rx="3" ry="5" fill="#1f8ccc" filter="url(#b1_5)" transform="rotate(10 117.5 51.9)"/><ellipse cx="89.6" cy="55.9" rx="2.2" ry="7" fill="#eef0f8" filter="url(#b1_3)" transform="rotate(10 89.6 55.9)"/><ellipse cx="137.9" cy="46.0" rx="2.5" ry="6" fill="#eef0f8" filter="url(#b1_3)" transform="rotate(10 137.9 46.0)"/><ellipse cx="107.5" cy="48.9" rx="2.5" ry="2" fill="#eef0f8" filter="url(#b1_3)"/><ellipse cx="100.6" cy="52.9" rx="1.5" ry="5" fill="#eef0f8" filter="url(#b1_3)" transform="rotate(15 100.6 52.9)"/><ellipse cx="125.5" cy="47.0" rx="2" ry="4" fill="#eef0f8" filter="url(#b1_3)" transform="rotate(-10 125.5 47.0)"/><ellipse cx="112.5" cy="57.9" rx="3" ry="1.5" fill="#eef0f8" filter="url(#b1_3)" transform="rotate(-10 112.5 57.9)"/><polygon points="138.1,55.7 140.1,40.8 142.1,33.9 145.1,31.2 150.1,31.9 154.1,29.9 160.0,31.4 164.0,29.9 164.0,48.8" fill="#a3cfeb" filter="url(#b2_2)"/><polygon points="139.4,57.9 141.4,43.0 143.4,36.1 146.4,33.4 151.3,34.1 155.3,32.1 161.3,33.6 165.3,32.1 165.3,50.9" fill="#3ba2da" filter="url(#b1_3)"/><polygon points="154.8,28.7 165.8,25.3 173.7,26.3 180.7,22.8 191.7,18.8 202.6,15.4 214.6,10.9 230.5,4.0 230.5,31.7 154.8,46.6" fill="#c4d9ee" filter="url(#b3)"/><polygon points="156.6,31.8 167.5,28.3 175.5,29.3 182.5,25.8 193.4,21.9 204.4,18.4 216.3,14.0 232.2,7.0 232.2,34.8 156.6,49.6" fill="#82c0e6" filter="url(#b2_5)"/><polygon points="158.6,35.3 169.5,31.8 177.5,32.8 184.5,29.3 195.4,25.4 206.4,21.9 218.3,17.4 234.2,10.5 234.2,38.2 158.6,53.1" fill="#359fd8" filter="url(#b2)"/><ellipse cx="148.4" cy="40.0" rx="2" ry="4" fill="#7fc1e7" filter="url(#b1_3)" transform="rotate(10 148.4 40.0)"/></g>
</g></g>
<rect x="32.0" y="163.6" width="231.0" height="108.70000000000002" fill="none" stroke="#2a2a2a" stroke-width="1"/>
<line x1="32.00" y1="272.3" x2="32.00" y2="268.1" stroke="#2a2a2a" stroke-width="1.1"/><line x1="39.70" y1="272.3" x2="39.70" y2="270.2" stroke="#2a2a2a" stroke-width="0.6"/><line x1="47.40" y1="272.3" x2="47.40" y2="270.2" stroke="#2a2a2a" stroke-width="0.6"/><line x1="55.10" y1="272.3" x2="55.10" y2="270.2" stroke="#2a2a2a" stroke-width="0.6"/><line x1="62.80" y1="272.3" x2="62.80" y2="270.2" stroke="#2a2a2a" stroke-width="0.6"/><line x1="70.50" y1="272.3" x2="70.50" y2="268.1" stroke="#2a2a2a" stroke-width="1.1"/><line x1="78.20" y1="272.3" x2="78.20" y2="270.2" stroke="#2a2a2a" stroke-width="0.6"/><line x1="85.90" y1="272.3" x2="85.90" y2="270.2" stroke="#2a2a2a" stroke-width="0.6"/><line x1="93.60" y1="272.3" x2="93.60" y2="270.2" stroke="#2a2a2a" stroke-width="0.6"/><line x1="101.30" y1="272.3" x2="101.30" y2="270.2" stroke="#2a2a2a" stroke-width="0.6"/><line x1="109.00" y1="272.3" x2="109.00" y2="268.1" stroke="#2a2a2a" stroke-width="1.1"/><line x1="116.70" y1="272.3" x2="116.70" y2="270.2" stroke="#2a2a2a" stroke-width="0.6"/><line x1="124.40" y1="272.3" x2="124.40" y2="270.2" stroke="#2a2a2a" stroke-width="0.6"/><line x1="132.10" y1="272.3" x2="132.10" y2="270.2" stroke="#2a2a2a" stroke-width="0.6"/><line x1="139.80" y1="272.3" x2="139.80" y2="270.2" stroke="#2a2a2a" stroke-width="0.6"/><line x1="147.50" y1="272.3" x2="147.50" y2="268.1" stroke="#2a2a2a" stroke-width="1.1"/><line x1="155.20" y1="272.3" x2="155.20" y2="270.2" stroke="#2a2a2a" stroke-width="0.6"/><line x1="162.90" y1="272.3" x2="162.90" y2="270.2" stroke="#2a2a2a" stroke-width="0.6"/><line x1="170.60" y1="272.3" x2="170.60" y2="270.2" stroke="#2a2a2a" stroke-width="0.6"/><line x1="178.30" y1="272.3" x2="178.30" y2="270.2" stroke="#2a2a2a" stroke-width="0.6"/><line x1="186.00" y1="272.3" x2="186.00" y2="268.1" stroke="#2a2a2a" stroke-width="1.1"/><line x1="193.70" y1="272.3" x2="193.70" y2="270.2" stroke="#2a2a2a" stroke-width="0.6"/><line x1="201.40" y1="272.3" x2="201.40" y2="270.2" stroke="#2a2a2a" stroke-width="0.6"/><line x1="209.10" y1="272.3" x2="209.10" y2="270.2" stroke="#2a2a2a" stroke-width="0.6"/><line x1="216.80" y1="272.3" x2="216.80" y2="270.2" stroke="#2a2a2a" stroke-width="0.6"/><line x1="224.50" y1="272.3" x2="224.50" y2="268.1" stroke="#2a2a2a" stroke-width="1.1"/><line x1="232.20" y1="272.3" x2="232.20" y2="270.2" stroke="#2a2a2a" stroke-width="0.6"/><line x1="239.90" y1="272.3" x2="239.90" y2="270.2" stroke="#2a2a2a" stroke-width="0.6"/><line x1="247.60" y1="272.3" x2="247.60" y2="270.2" stroke="#2a2a2a" stroke-width="0.6"/><line x1="255.30" y1="272.3" x2="255.30" y2="270.2" stroke="#2a2a2a" stroke-width="0.6"/><line x1="263.00" y1="272.3" x2="263.00" y2="268.1" stroke="#2a2a2a" stroke-width="1.1"/><line x1="32.0" y1="272.30" x2="36.2" y2="272.30" stroke="#2a2a2a" stroke-width="1.1"/><line x1="32.0" y1="264.60" x2="34.1" y2="264.60" stroke="#2a2a2a" stroke-width="0.6"/><line x1="32.0" y1="256.90" x2="34.1" y2="256.90" stroke="#2a2a2a" stroke-width="0.6"/><line x1="32.0" y1="249.20" x2="34.1" y2="249.20" stroke="#2a2a2a" stroke-width="0.6"/><line x1="32.0" y1="241.50" x2="34.1" y2="241.50" stroke="#2a2a2a" stroke-width="0.6"/><line x1="32.0" y1="233.80" x2="36.2" y2="233.80" stroke="#2a2a2a" stroke-width="1.1"/><line x1="32.0" y1="226.10" x2="34.1" y2="226.10" stroke="#2a2a2a" stroke-width="0.6"/><line x1="32.0" y1="218.40" x2="34.1" y2="218.40" stroke="#2a2a2a" stroke-width="0.6"/><line x1="32.0" y1="210.70" x2="34.1" y2="210.70" stroke="#2a2a2a" stroke-width="0.6"/><line x1="32.0" y1="203.00" x2="34.1" y2="203.00" stroke="#2a2a2a" stroke-width="0.6"/><line x1="32.0" y1="195.30" x2="36.2" y2="195.30" stroke="#2a2a2a" stroke-width="1.1"/><line x1="32.0" y1="187.60" x2="34.1" y2="187.60" stroke="#2a2a2a" stroke-width="0.6"/><line x1="32.0" y1="179.90" x2="34.1" y2="179.90" stroke="#2a2a2a" stroke-width="0.6"/><line x1="32.0" y1="172.20" x2="34.1" y2="172.20" stroke="#2a2a2a" stroke-width="0.6"/><line x1="32.0" y1="164.50" x2="34.1" y2="164.50" stroke="#2a2a2a" stroke-width="0.6"/>
<text x="32.0" y="280.7" font-size="7.9" stroke="#222" stroke-width="0.2" text-anchor="middle">0.3</text><text x="70.5" y="280.7" font-size="7.9" stroke="#222" stroke-width="0.2" text-anchor="middle">0.35</text><text x="109.0" y="280.7" font-size="7.9" stroke="#222" stroke-width="0.2" text-anchor="middle">0.4</text><text x="147.5" y="280.7" font-size="7.9" stroke="#222" stroke-width="0.2" text-anchor="middle">0.45</text><text x="186.0" y="280.7" font-size="7.9" stroke="#222" stroke-width="0.2" text-anchor="middle">0.5</text><text x="224.5" y="280.7" font-size="7.9" stroke="#222" stroke-width="0.2" text-anchor="middle">0.55</text><text x="263.0" y="280.7" font-size="7.9" stroke="#222" stroke-width="0.2" text-anchor="middle">0.6</text><text x="29.8" y="275.4" font-size="7.9" stroke="#222" stroke-width="0.2" text-anchor="end">0.1</text><text x="29.8" y="236.9" font-size="7.9" stroke="#222" stroke-width="0.2" text-anchor="end">0.15</text><text x="29.8" y="198.4" font-size="7.9" stroke="#222" stroke-width="0.2" text-anchor="end">0.2</text>
<text x="147" y="293.6" font-size="10.4" text-anchor="middle" font-style="italic"><tspan font-weight="bold">x</tspan><tspan font-size="6.4" dy="2.2">b</tspan><tspan dy="-2.2"> /m</tspan></text>
<text transform="translate(8.2,216.5) rotate(-90)" font-size="10.4" text-anchor="middle" font-style="italic"><tspan font-weight="bold">z</tspan><tspan font-size="6.4" dy="2.2">b</tspan><tspan dy="-2.2"> /m</tspan></text>
<rect x="115.5" y="240.7" width="140.7" height="11.0" fill="url(#cbg)"/>
<text x="115.6" y="261.3" font-size="7.9" stroke="#222" stroke-width="0.2" text-anchor="middle">0.00</text><text x="135.0" y="261.3" font-size="7.9" stroke="#222" stroke-width="0.2" text-anchor="middle">0.01</text><text x="154.5" y="261.3" font-size="7.9" stroke="#222" stroke-width="0.2" text-anchor="middle">0.03</text><text x="173.9" y="261.3" font-size="7.9" stroke="#222" stroke-width="0.2" text-anchor="middle">0.04</text><text x="193.4" y="261.3" font-size="7.9" stroke="#222" stroke-width="0.2" text-anchor="middle">0.06</text><text x="212.8" y="261.3" font-size="7.9" stroke="#222" stroke-width="0.2" text-anchor="middle">0.07</text><text x="232.2" y="261.3" font-size="7.9" stroke="#222" stroke-width="0.2" text-anchor="middle">0.08</text><text x="251.7" y="261.3" font-size="7.9" stroke="#222" stroke-width="0.2" text-anchor="middle">0.10</text><text x="102.2" y="261.3" font-size="7.9" stroke="#222" stroke-width="0.2" text-anchor="end">ρ (kg/m<tspan font-size="5" dy="-2.6">3</tspan><tspan dy="2.6">):</tspan></text>
<text x="134.3" y="314.3" font-size="12.4" text-anchor="middle" fill="#111">(<tspan font-weight="bold">c</tspan>)</text>
</g>
<g id="panel-d">
<g transform="translate(314.0,166.0) scale(1.01087,1.01021)"><g clip-path="url(#flowclipd)">
<rect x="-5" y="-5" width="240" height="118" fill="#90bde0"/><polygon points="-14.4,57.5 7.3,47.6 24.1,39.2 35.0,32.2 44.9,26.8 61.7,17.4 78.6,8.0 91.4,1.0 101.3,-5.9 110.2,-12.8 117.1,-19.7 240.0,-5.0 240.0,112.0 -5.0,112.0" fill="#7db6de" filter="url(#b8)"/><polygon points="-10.4,64.4 11.3,54.5 28.1,46.1 39.0,39.2 48.9,33.7 65.7,24.3 82.6,14.9 95.4,8.0 105.3,1.1 114.2,-5.9 121.1,-12.8 240.0,-5.0 240.0,112.0 -5.0,112.0" fill="#6aaedc" filter="url(#b6)"/><polygon points="-5.9,72.3 15.8,62.4 32.6,53.9 43.5,47.0 53.4,41.6 70.2,32.2 87.1,22.8 99.9,15.8 109.8,8.9 118.7,2.0 125.6,-4.9 240.0,-5.0 240.0,112.0 -5.0,112.0" fill="#4f9dd5" filter="url(#b3)"/><polyline points="-8.2,81.2 0.3,79.2 13.6,76.3 27.9,72.6 38.3,67.4 51.2,59.4 68.0,47.0 82.8,36.2 97.7,25.1 112.5,15.6 122.4,9.0 132.3,2.5 141.2,-3.4 148.1,-8.9" fill="none" stroke="url(#gd1)" stroke-width="9" stroke-linecap="round" stroke-linejoin="round" filter="url(#b2_5)"/><polyline points="-6.9,83.4 1.6,81.4 14.8,78.4 29.2,74.8 39.6,69.5 52.4,61.6 69.2,49.1 84.1,38.4 98.9,27.3 113.8,17.8 123.6,11.1 133.5,4.7 142.4,-1.2 149.4,-6.7" fill="none" stroke="url(#gd2)" stroke-width="4" stroke-linecap="round" stroke-linejoin="round" filter="url(#b1_2)"/><polygon points="-5.9,85.1 2.6,83.2 15.8,80.2 30.2,76.5 40.6,71.3 53.4,63.4 70.2,50.9 85.1,40.1 99.9,29.0 114.8,19.5 124.6,12.9 134.5,6.4 143.4,0.5 150.4,-4.9 240.0,-5.0 240.0,112.0 -5.0,112.0" fill="#2788c8" filter="url(#b0_7)"/><polygon points="25.7,80.2 30.2,76.5 40.6,71.3 53.4,63.4 70.2,50.9 85.1,40.1 99.9,29.0 114.8,19.5 124.6,12.9 134.5,6.4 143.4,0.5 150.4,-4.9 243.4,-4.9 243.4,73.3 85.1,93.0" fill="#78bee6" filter="url(#b0_7)"/><polygon points="83.1,57.4 99.9,40.6 119.7,25.7 143.4,4.0 150.4,-4.9 186.0,-4.9 176.1,8.9 161.2,23.8 146.4,37.6 131.6,45.5 116.7,47.5 104.9,55.4" fill="#9ccaea" filter="url(#b3_5)"/><polyline points="63.3,65.3 82.1,51.5 102.9,36.6 122.7,22.8 142.5,8.9 158.3,-4.0" fill="none" stroke="#a6cfeb" stroke-width="10" stroke-linecap="round" stroke-linejoin="round" filter="url(#b3)"/><polyline points="96.9,45.5 116.7,30.7 134.5,16.8 150.4,4.0" fill="none" stroke="#c2d5ee" stroke-width="5" stroke-linecap="round" stroke-linejoin="round" filter="url(#b2)"/><polyline points="124.6,38.6 144.4,19.8 164.2,4.0 176.1,-5.9" fill="none" stroke="#a3cdea" stroke-width="9" stroke-linecap="round" stroke-linejoin="round" filter="url(#b3)"/><polyline points="154.3,28.7 172.1,13.9 188.9,2.0" fill="none" stroke="#8fc6e7" stroke-width="7" stroke-linecap="round" stroke-linejoin="round" filter="url(#b3)"/><polygon points="164.2,-5.9 239.4,-5.9 239.4,33.7 184.0,33.7 154.3,43.6" fill="#72bbe4" filter="url(#b5)" opacity="0.8"/><polygon points="188.9,-5.9 239.4,-5.9 239.4,18.8 203.8,15.8" fill="#58addc" filter="url(#b4)"/><polygon points="-5.9,74.2 10.9,72.8 30.7,74.7 41.5,77.2 20.8,91.1 -5.9,89.1" fill="#1d7fc5" filter="url(#b3)"/><polygon points="-2.0,80.2 15.8,81.7 28.7,81.2 35.6,80.7 11.9,90.1 -2.0,85.1" fill="#0f69b0" filter="url(#b1_5)"/><polygon points="152.3,36.6 160.3,28.7 169.2,24.7 184.0,21.8 203.8,16.8 235.4,7.9 235.4,48.5 152.3,48.5" fill="#55acdd" filter="url(#b2_5)"/><g filter="url(#wob)"><polygon points="-5.9,81.2 2.6,81.7 20.8,80.7 40.6,76.4 57.4,72.8 71.2,70.3 85.1,67.8 96.9,65.3 96.9,78.2 15.8,95.0 -5.9,91.1" fill="#3397d1" filter="url(#b1_0)"/><ellipse cx="76.7" cy="62.9" rx="7" ry="5.5" fill="#3fa3da" filter="url(#b1_3)" transform="rotate(-15 76.7 62.9)"/><ellipse cx="94.0" cy="62.9" rx="6.5" ry="4" fill="#3fa3da" filter="url(#b1_3)" transform="rotate(-15 94.0 62.9)"/><polygon points="96.9,67.3 99.9,57.4 101.9,50.5 103.4,44.5 106.3,40.6 109.8,39.9 112.3,42.1 114.3,47.0 116.7,52.0 119.2,52.5 122.0,50.2 125.6,45.5 130.6,45.0 135.5,46.5 141.5,43.1 145.4,44.5 149.2,43.6 153.3,36.6 160.3,31.7 169.2,28.2 184.0,25.2 203.8,20.3 235.4,11.4 235.4,48.5 104.9,73.3" fill="#2f9ad2" filter="url(#b1_2)"/><ellipse cx="85.1" cy="64.3" rx="2" ry="4" fill="#7fc2e8" filter="url(#b1_2)" transform="rotate(15 85.1 64.3)"/><ellipse cx="117.7" cy="57.4" rx="2" ry="4" fill="#7fc2e8" filter="url(#b1_2)" transform="rotate(10 117.7 57.4)"/><ellipse cx="136.5" cy="53.5" rx="2" ry="3" fill="#7fc2e8" filter="url(#b1_2)" transform="rotate(10 136.5 53.5)"/><ellipse cx="139.5" cy="49.5" rx="6" ry="3" fill="#2288c8" filter="url(#b1_5)" transform="rotate(-15 139.5 49.5)"/><ellipse cx="124.6" cy="55.4" rx="4" ry="3" fill="#2288c8" filter="url(#b1_5)"/><polygon points="-5.0,82.0 12.0,82.0 35.0,76.0 50.0,77.0 12.0,92.0 -5.0,88.0" fill="#0d64a8" filter="url(#b2)"/></g>
</g></g>
<rect x="314.0" y="166.0" width="232.5" height="108.80000000000001" fill="none" stroke="#2a2a2a" stroke-width="1"/>
<line x1="314.00" y1="274.8" x2="314.00" y2="270.6" stroke="#2a2a2a" stroke-width="1.1"/><line x1="321.75" y1="274.8" x2="321.75" y2="272.7" stroke="#2a2a2a" stroke-width="0.6"/><line x1="329.50" y1="274.8" x2="329.50" y2="272.7" stroke="#2a2a2a" stroke-width="0.6"/><line x1="337.25" y1="274.8" x2="337.25" y2="272.7" stroke="#2a2a2a" stroke-width="0.6"/><line x1="345.00" y1="274.8" x2="345.00" y2="272.7" stroke="#2a2a2a" stroke-width="0.6"/><line x1="352.75" y1="274.8" x2="352.75" y2="270.6" stroke="#2a2a2a" stroke-width="1.1"/><line x1="360.50" y1="274.8" x2="360.50" y2="272.7" stroke="#2a2a2a" stroke-width="0.6"/><line x1="368.25" y1="274.8" x2="368.25" y2="272.7" stroke="#2a2a2a" stroke-width="0.6"/><line x1="376.00" y1="274.8" x2="376.00" y2="272.7" stroke="#2a2a2a" stroke-width="0.6"/><line x1="383.75" y1="274.8" x2="383.75" y2="272.7" stroke="#2a2a2a" stroke-width="0.6"/><line x1="391.50" y1="274.8" x2="391.50" y2="270.6" stroke="#2a2a2a" stroke-width="1.1"/><line x1="399.25" y1="274.8" x2="399.25" y2="272.7" stroke="#2a2a2a" stroke-width="0.6"/><line x1="407.00" y1="274.8" x2="407.00" y2="272.7" stroke="#2a2a2a" stroke-width="0.6"/><line x1="414.75" y1="274.8" x2="414.75" y2="272.7" stroke="#2a2a2a" stroke-width="0.6"/><line x1="422.50" y1="274.8" x2="422.50" y2="272.7" stroke="#2a2a2a" stroke-width="0.6"/><line x1="430.25" y1="274.8" x2="430.25" y2="270.6" stroke="#2a2a2a" stroke-width="1.1"/><line x1="438.00" y1="274.8" x2="438.00" y2="272.7" stroke="#2a2a2a" stroke-width="0.6"/><line x1="445.75" y1="274.8" x2="445.75" y2="272.7" stroke="#2a2a2a" stroke-width="0.6"/><line x1="453.50" y1="274.8" x2="453.50" y2="272.7" stroke="#2a2a2a" stroke-width="0.6"/><line x1="461.25" y1="274.8" x2="461.25" y2="272.7" stroke="#2a2a2a" stroke-width="0.6"/><line x1="469.00" y1="274.8" x2="469.00" y2="270.6" stroke="#2a2a2a" stroke-width="1.1"/><line x1="476.75" y1="274.8" x2="476.75" y2="272.7" stroke="#2a2a2a" stroke-width="0.6"/><line x1="484.50" y1="274.8" x2="484.50" y2="272.7" stroke="#2a2a2a" stroke-width="0.6"/><line x1="492.25" y1="274.8" x2="492.25" y2="272.7" stroke="#2a2a2a" stroke-width="0.6"/><line x1="500.00" y1="274.8" x2="500.00" y2="272.7" stroke="#2a2a2a" stroke-width="0.6"/><line x1="507.75" y1="274.8" x2="507.75" y2="270.6" stroke="#2a2a2a" stroke-width="1.1"/><line x1="515.50" y1="274.8" x2="515.50" y2="272.7" stroke="#2a2a2a" stroke-width="0.6"/><line x1="523.25" y1="274.8" x2="523.25" y2="272.7" stroke="#2a2a2a" stroke-width="0.6"/><line x1="531.00" y1="274.8" x2="531.00" y2="272.7" stroke="#2a2a2a" stroke-width="0.6"/><line x1="538.75" y1="274.8" x2="538.75" y2="272.7" stroke="#2a2a2a" stroke-width="0.6"/><line x1="546.50" y1="274.8" x2="546.50" y2="270.6" stroke="#2a2a2a" stroke-width="1.1"/><line x1="314.0" y1="274.80" x2="318.2" y2="274.80" stroke="#2a2a2a" stroke-width="1.1"/><line x1="314.0" y1="267.05" x2="316.1" y2="267.05" stroke="#2a2a2a" stroke-width="0.6"/><line x1="314.0" y1="259.30" x2="316.1" y2="259.30" stroke="#2a2a2a" stroke-width="0.6"/><line x1="314.0" y1="251.55" x2="316.1" y2="251.55" stroke="#2a2a2a" stroke-width="0.6"/><line x1="314.0" y1="243.80" x2="316.1" y2="243.80" stroke="#2a2a2a" stroke-width="0.6"/><line x1="314.0" y1="236.05" x2="318.2" y2="236.05" stroke="#2a2a2a" stroke-width="1.1"/><line x1="314.0" y1="228.30" x2="316.1" y2="228.30" stroke="#2a2a2a" stroke-width="0.6"/><line x1="314.0" y1="220.55" x2="316.1" y2="220.55" stroke="#2a2a2a" stroke-width="0.6"/><line x1="314.0" y1="212.80" x2="316.1" y2="212.80" stroke="#2a2a2a" stroke-width="0.6"/><line x1="314.0" y1="205.05" x2="316.1" y2="205.05" stroke="#2a2a2a" stroke-width="0.6"/><line x1="314.0" y1="197.30" x2="318.2" y2="197.30" stroke="#2a2a2a" stroke-width="1.1"/><line x1="314.0" y1="189.55" x2="316.1" y2="189.55" stroke="#2a2a2a" stroke-width="0.6"/><line x1="314.0" y1="181.80" x2="316.1" y2="181.80" stroke="#2a2a2a" stroke-width="0.6"/><line x1="314.0" y1="174.05" x2="316.1" y2="174.05" stroke="#2a2a2a" stroke-width="0.6"/>
<text x="314.0" y="283.2" font-size="7.9" stroke="#222" stroke-width="0.2" text-anchor="middle">0.3</text><text x="352.8" y="283.2" font-size="7.9" stroke="#222" stroke-width="0.2" text-anchor="middle">0.35</text><text x="391.5" y="283.2" font-size="7.9" stroke="#222" stroke-width="0.2" text-anchor="middle">0.4</text><text x="430.2" y="283.2" font-size="7.9" stroke="#222" stroke-width="0.2" text-anchor="middle">0.45</text><text x="469.0" y="283.2" font-size="7.9" stroke="#222" stroke-width="0.2" text-anchor="middle">0.5</text><text x="507.8" y="283.2" font-size="7.9" stroke="#222" stroke-width="0.2" text-anchor="middle">0.55</text><text x="311.8" y="277.9" font-size="7.9" stroke="#222" stroke-width="0.2" text-anchor="end">0.1</text><text x="311.8" y="239.2" font-size="7.9" stroke="#222" stroke-width="0.2" text-anchor="end">0.15</text><text x="311.8" y="200.4" font-size="7.9" stroke="#222" stroke-width="0.2" text-anchor="end">0.2</text>
<text x="430.5" y="294.8" font-size="10.4" text-anchor="middle" font-style="italic"><tspan font-weight="bold">x</tspan><tspan font-size="6.4" dy="2.2">b</tspan><tspan dy="-2.2"> /m</tspan></text>
<text transform="translate(290.7,218.7) rotate(-90)" font-size="10.4" text-anchor="middle" font-style="italic"><tspan font-weight="bold">z</tspan><tspan font-size="6.4" dy="2.2">b</tspan><tspan dy="-2.2"> /m</tspan></text>
<rect x="403" y="242.4" width="134.8" height="10.6" fill="url(#cbg)"/>
<text x="403.0" y="264.1" font-size="7.9" stroke="#222" stroke-width="0.2" text-anchor="middle">0.000</text><text x="427.1" y="264.1" font-size="7.9" stroke="#222" stroke-width="0.2" text-anchor="middle">0.001</text><text x="451.2" y="264.1" font-size="7.9" stroke="#222" stroke-width="0.2" text-anchor="middle">0.002</text><text x="475.4" y="264.1" font-size="7.9" stroke="#222" stroke-width="0.2" text-anchor="middle">0.003</text><text x="499.5" y="264.1" font-size="7.9" stroke="#222" stroke-width="0.2" text-anchor="middle">0.004</text><text x="523.6" y="264.1" font-size="7.9" stroke="#222" stroke-width="0.2" text-anchor="middle">0.005</text><text x="387.3" y="264.1" font-size="7.9" stroke="#222" stroke-width="0.2" text-anchor="end">ρ (kg/m<tspan font-size="5" dy="-2.6">3</tspan><tspan dy="2.6">):</tspan></text>
<text x="415.4" y="313.6" font-size="12.4" text-anchor="middle" fill="#111">(<tspan font-weight="bold">d</tspan>)</text>
</g>
</svg></body></html>
